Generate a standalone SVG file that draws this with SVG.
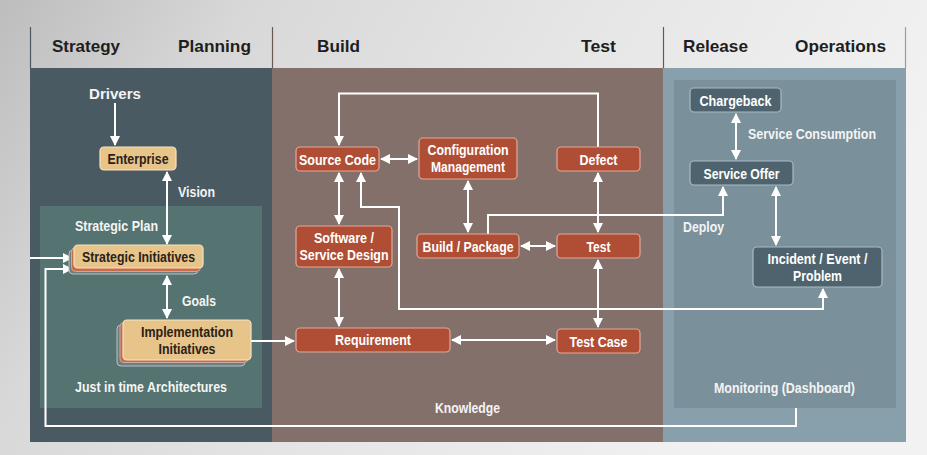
<svg xmlns="http://www.w3.org/2000/svg" width="927" height="455" viewBox="0 0 927 455">
<defs>
<linearGradient id="bg" x1="0" y1="0" x2="1" y2="0.3">
<stop offset="0" stop-color="#bdbdbd"/>
<stop offset="0.25" stop-color="#d8d8d8"/>
<stop offset="0.6" stop-color="#e6e6e6"/>
<stop offset="1" stop-color="#f2f2f2"/>
</linearGradient>
<marker id="ah" viewBox="0 0 10 10" refX="9" refY="5" markerWidth="10" markerHeight="10" markerUnits="userSpaceOnUse" orient="auto-start-reverse">
<path d="M0,0 L10,5 L0,10 z" fill="#ffffff"/>
</marker>
<style>
text{font-family:"Liberation Sans",Arial,sans-serif;font-weight:bold}
.hdr{font-size:17px;fill:#1e1e1e}
.lbl{font-size:15px;fill:#f4f4f4}
.t{font-size:15px;text-anchor:middle}
.tw{fill:#ffffff}
.td{fill:#2a2118}
.gold{fill:#e6c48a;stroke:#f5e4c2;stroke-width:1.2}
.gsh1{fill:#c96a48;stroke:#c8a8a0;stroke-width:1}
.gsh2{fill:#6e7d80;stroke:#b9c2c4;stroke-width:1}
.rust{fill:#b04e35;stroke:#e2a898;stroke-width:1.2}
.slate{fill:#4e636d;stroke:#a7bcc5;stroke-width:1.2}
.ln{fill:none;stroke:#ffffff;stroke-width:2}
.one{marker-end:url(#ah)}
.two{marker-start:url(#ah);marker-end:url(#ah)}
.vl{stroke-width:1.2}
</style>
</defs>
<rect x="0" y="0" width="927" height="455" fill="url(#bg)"/>
<g id="header">
<line x1="30.5" y1="27" x2="30.5" y2="68" stroke="#4a5a62" class="vl"/>
<line x1="272.5" y1="27" x2="272.5" y2="68" stroke="#6b5752" class="vl"/>
<line x1="663.5" y1="27" x2="663.5" y2="68" stroke="#6b5752" class="vl"/>
<line x1="905.5" y1="27" x2="905.5" y2="68" stroke="#8aa0aa" class="vl"/>
<text class="hdr" x="52" y="52" textLength="68" lengthAdjust="spacingAndGlyphs">Strategy</text>
<text class="hdr" x="178" y="52" textLength="73" lengthAdjust="spacingAndGlyphs">Planning</text>
<text class="hdr" x="317" y="52" textLength="43" lengthAdjust="spacingAndGlyphs">Build</text>
<text class="hdr" x="581" y="52" textLength="35" lengthAdjust="spacingAndGlyphs">Test</text>
<text class="hdr" x="683" y="52" textLength="65" lengthAdjust="spacingAndGlyphs">Release</text>
<text class="hdr" x="795" y="52" textLength="91" lengthAdjust="spacingAndGlyphs">Operations</text>
</g>
<g id="panels">
<rect x="30" y="68" width="242" height="374" fill="#4a5a62"/>
<rect x="272" y="68" width="391" height="374" fill="#84706b"/>
<rect x="663" y="68" width="243" height="374" fill="#88a0ab"/>
<rect x="40" y="206" width="222" height="202" fill="#557370"/>
<rect x="674" y="80" width="222" height="328" fill="#7a909a"/>
</g>
<g id="labels">
<text class="lbl" x="89" y="99" textLength="52" lengthAdjust="spacingAndGlyphs">Drivers</text>
<text class="lbl" x="178" y="197" textLength="37" lengthAdjust="spacingAndGlyphs">Vision</text>
<text class="lbl" x="75" y="231" textLength="83" lengthAdjust="spacingAndGlyphs">Strategic Plan</text>
<text class="lbl" x="182" y="306" textLength="34" lengthAdjust="spacingAndGlyphs">Goals</text>
<text class="lbl" x="75" y="392" textLength="152" lengthAdjust="spacingAndGlyphs">Just in time Architectures</text>
<text class="lbl" x="435" y="413" textLength="65" lengthAdjust="spacingAndGlyphs">Knowledge</text>
<text class="lbl" x="748" y="139" textLength="128" lengthAdjust="spacingAndGlyphs">Service Consumption</text>
<text class="lbl" x="683" y="232" textLength="41" lengthAdjust="spacingAndGlyphs">Deploy</text>
<text class="lbl" x="714" y="393" textLength="141" lengthAdjust="spacingAndGlyphs">Monitoring (Dashboard)</text>
</g>
<g id="connectors">
<path class="ln one" d="M115,103 V145"/>
<path class="ln two" d="M167,172 V244"/>
<path class="ln two" d="M167,276 V318"/>
<path class="ln one" d="M30,258 H72"/>
<path class="ln one" d="M796,408 V426 H45.5 V269 H72"/>
<path class="ln one" d="M251,341 H294"/>
<path class="ln one" d="M598,147 V93.5 H339 V145"/>
<path class="ln two" d="M381,159 H417"/>
<path class="ln two" d="M339,173 V224"/>
<path class="ln two" d="M468,181 V232"/>
<path class="ln two" d="M521,246 H555"/>
<path class="ln two" d="M598,173 V232"/>
<path class="ln two" d="M339,269 V326"/>
<path class="ln two" d="M598,260 V327"/>
<path class="ln two" d="M452,340 H555"/>
<path class="ln two" d="M361,173 V207 H399 V309 H823 V289"/>
<path class="ln one" d="M488,234 V215 H723 V187"/>
<path class="ln two" d="M736,114 V159"/>
<path class="ln two" d="M776,187 V245"/>
</g>
<g id="enterprise">
<rect class="gold" x="100" y="147" width="76" height="23" rx="4"/>
<text class="t td" x="138" y="164" textLength="61" lengthAdjust="spacingAndGlyphs">Enterprise</text>
</g>
<g id="strategic-initiatives">
<rect class="gsh2" x="69" y="250" width="129" height="24" rx="4"/>
<rect class="gsh1" x="71.5" y="247.5" width="129" height="24" rx="4"/>
<rect class="gold" x="74" y="245" width="129" height="23" rx="4"/>
<text class="t td" x="138.5" y="262" textLength="113" lengthAdjust="spacingAndGlyphs">Strategic Initiatives</text>
</g>
<g id="implementation-initiatives">
<rect class="gsh2" x="117" y="325" width="128" height="41" rx="4"/>
<rect class="gsh1" x="120" y="322.5" width="128" height="40" rx="4"/>
<rect class="gold" x="123" y="320" width="128" height="40" rx="4"/>
<text class="t td" x="187" y="337" textLength="92" lengthAdjust="spacingAndGlyphs">Implementation</text>
<text class="t td" x="187" y="354" textLength="57" lengthAdjust="spacingAndGlyphs">Initiatives</text>
</g>
<g id="source-code">
<rect class="rust" x="296" y="147" width="83" height="24" rx="4"/>
<text class="t tw" x="337.5" y="165" textLength="77" lengthAdjust="spacingAndGlyphs">Source Code</text>
</g>
<g id="configuration-management">
<rect class="rust" x="419" y="138" width="98" height="41" rx="4"/>
<text class="t tw" x="468" y="155" textLength="81" lengthAdjust="spacingAndGlyphs">Configuration</text>
<text class="t tw" x="468" y="172" textLength="74" lengthAdjust="spacingAndGlyphs">Management</text>
</g>
<g id="defect">
<rect class="rust" x="557" y="147" width="83" height="24" rx="4"/>
<text class="t tw" x="598.5" y="165" textLength="38" lengthAdjust="spacingAndGlyphs">Defect</text>
</g>
<g id="software-service-design">
<rect class="rust" x="296" y="226" width="96" height="41" rx="4"/>
<text class="t tw" x="344" y="243" textLength="60" lengthAdjust="spacingAndGlyphs">Software /</text>
<text class="t tw" x="344" y="260" textLength="89" lengthAdjust="spacingAndGlyphs">Service Design</text>
</g>
<g id="build-package">
<rect class="rust" x="417" y="234" width="102" height="24" rx="4"/>
<text class="t tw" x="468" y="252" textLength="91" lengthAdjust="spacingAndGlyphs">Build / Package</text>
</g>
<g id="test">
<rect class="rust" x="557" y="234" width="83" height="24" rx="4"/>
<text class="t tw" x="598.5" y="252" textLength="24" lengthAdjust="spacingAndGlyphs">Test</text>
</g>
<g id="requirement">
<rect class="rust" x="296" y="328" width="154" height="24" rx="4"/>
<text class="t tw" x="373" y="345" textLength="76" lengthAdjust="spacingAndGlyphs">Requirement</text>
</g>
<g id="test-case">
<rect class="rust" x="557" y="329" width="83" height="24" rx="4"/>
<text class="t tw" x="598.5" y="347" textLength="58" lengthAdjust="spacingAndGlyphs">Test Case</text>
</g>
<g id="chargeback">
<rect class="slate" x="690" y="88" width="91" height="24" rx="4"/>
<text class="t tw" x="735.5" y="106" textLength="72" lengthAdjust="spacingAndGlyphs">Chargeback</text>
</g>
<g id="service-offer">
<rect class="slate" x="690" y="161" width="103" height="24" rx="4"/>
<text class="t tw" x="741.5" y="179" textLength="76" lengthAdjust="spacingAndGlyphs">Service Offer</text>
</g>
<g id="incident-event-problem">
<rect class="slate" x="753" y="247" width="129" height="40" rx="4"/>
<text class="t tw" x="817.5" y="264" textLength="100" lengthAdjust="spacingAndGlyphs">Incident / Event /</text>
<text class="t tw" x="817.5" y="281" textLength="49" lengthAdjust="spacingAndGlyphs">Problem</text>
</g>
</svg>
